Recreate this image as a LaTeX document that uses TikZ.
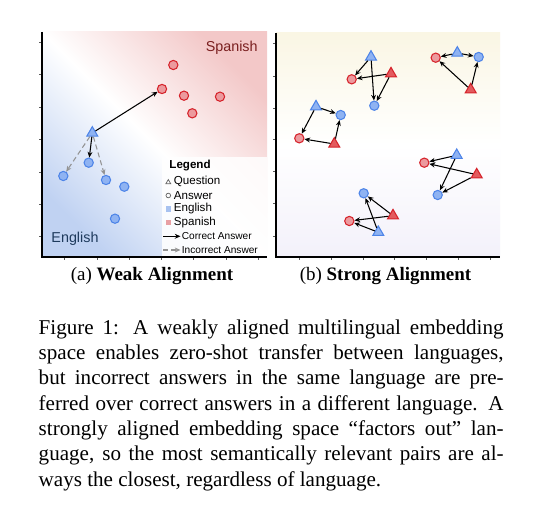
\documentclass[tikz,border=0pt]{standalone}
\usepackage{fontspec}
\setmainfont{Liberation Serif}
\setsansfont{Liberation Sans}
\usetikzlibrary{shapes.geometric,arrows.meta}
\definecolor{bfill}{RGB}{143,179,242}
\definecolor{bstroke}{RGB}{77,132,232}
\definecolor{rfill}{RGB}{236,154,158}
\definecolor{rtfill}{RGB}{227,91,94}
\definecolor{rstroke}{RGB}{214,35,43}
\definecolor{engcol}{RGB}{30,58,92}
\definecolor{spacol}{RGB}{122,31,31}
\definecolor{bluebg}{RGB}{192,210,242}
\definecolor{pinkbg}{RGB}{243,200,200}
\definecolor{topbg}{RGB}{250,246,228}
\definecolor{botbg}{RGB}{243,241,250}
\definecolor{legblue}{RGB}{168,194,240}
\definecolor{legred}{RGB}{232,160,164}
\definecolor{tickcol}{RGB}{90,90,90}
\begin{document}
\begin{tikzpicture}[x=0.4743pt,y=-0.4743pt,
  bc/.style={circle,draw=bstroke,fill=bfill,line width=0.5pt,minimum size=4.4pt,inner sep=0pt},
  rc/.style={circle,draw=rstroke,fill=rfill,line width=0.5pt,minimum size=4.4pt,inner sep=0pt},
  bt/.style={regular polygon,regular polygon sides=3,draw=bstroke,fill=bfill,line width=0.5pt,minimum size=6pt,inner sep=0pt},
  rt/.style={regular polygon,regular polygon sides=3,draw=rstroke,fill=rtfill,line width=0.5pt,minimum size=6pt,inner sep=0pt},
  ar/.style={-{Stealth[length=2.7pt,width=2.3pt]},line width=0.5pt,black},
  dar/.style={-{Stealth[length=2.7pt,width=2.3pt]},line width=0.5pt,draw=gray!85,dash pattern=on 2.4pt off 1.5pt},
  axisline/.style={line width=0.7pt,black},
  tickline/.style={line width=0.3pt,tickcol},
  region/.style={font=\sffamily\fontsize{6.8}{8}\selectfont,inner sep=0pt},
  legtext/.style={font=\sffamily\fontsize{5.5}{6.5}\selectfont,anchor=west,inner sep=0pt},
  legsmall/.style={font=\sffamily\fontsize{4.8}{6}\selectfont,anchor=west,inner sep=0pt},
  subcap/.style={font=\fontsize{9}{11}\selectfont,anchor=base,inner sep=0pt}
]
\useasboundingbox (0,0) rectangle (541,511);
\fill[white] (0,0) rectangle (541,511);
% ---------- panel (a) ----------
\shade[shading=axis,top color=pinkbg,bottom color=bluebg,middle color=white,shading angle=-45] (42,32) rectangle (267,257);
\fill[white,opacity=0.85] (162,157) rectangle (267,257);
\foreach \yy in {42,74,107,139,172,204,236} \draw[tickline] (39,\yy) -- (42,\yy);
\foreach \xx in {64,97,129,161,193,226,258} \draw[tickline] (\xx,257) -- (\xx,260);
\draw[axisline] (42,32) -- (42,257) -- (267,257);

\node[region,text=spacol] (lsp) at (231.7,47.7) {Spanish};
\node[region,text=engcol] (len) at (75,239) {English};

\node[rc] (s1) at (173.3,65) {};
\node[rc] (s2) at (162,89) {};
\node[rc] (s3) at (184,95.7) {};
\node[rc] (s4) at (220,96.7) {};
\node[rc] (s5) at (192.3,113.3) {};
\node[bt] (q) at (92.3,133) {};
\node[bc] (e1) at (88.7,162.7) {};
\node[bc] (e2) at (63.3,176) {};
\node[bc] (e3) at (106,180) {};
\node[bc] (e4) at (124.3,186.7) {};
\node[bc] (e5) at (115,218.7) {};
\draw[ar] (q) -- (s2);
\draw[ar] (q) -- (e1);
\draw[dar] (q) -- (e2);
\draw[dar] (q) -- (e3);

% legend
\node[legtext,font=\sffamily\bfseries\fontsize{5.5}{6.5}\selectfont] (lg) at (169,166) {Legend};
\node[regular polygon,regular polygon sides=3,draw=gray!80!black,line width=0.35pt,minimum size=2.6pt,inner sep=0pt] (lq) at (168.3,182.3) {};
\node[legtext] (lqt) at (173.5,181.7) {Question};
\node[circle,draw=gray!80!black,line width=0.35pt,minimum size=2.2pt,inner sep=0pt] (la) at (168.3,195.5) {};
\node[legtext] (lat) at (173.5,195.3) {Answer};
\node[rectangle,fill=legblue,minimum size=2.5pt,inner sep=0pt] (le) at (168.3,208.9) {};
\node[legtext] (let) at (173.5,208.7) {English};
\node[rectangle,fill=legred,minimum size=2.5pt,inner sep=0pt] (ls) at (168.3,222.5) {};
\node[legtext] (lst) at (173.5,222.3) {Spanish};
\coordinate (lc1) at (163,236.3);
\coordinate (lc2) at (180.5,236.3);
\draw[ar] (lc1) -- (lc2);
\node[legsmall] (lct) at (181.5,236.3) {Correct Answer};
\coordinate (li1) at (163,250);
\coordinate (li2) at (180.5,250);
\draw[dar] (li1) -- (li2);
\node[legsmall] (lit) at (181.5,250) {Incorrect Answer};

% ---------- panel (b) ----------
\shade[top color=topbg,bottom color=botbg,middle color=white] (276,33) rectangle (500,257);
\foreach \yy in {43,76,108,139,171,203,236} \draw[tickline] (273,\yy) -- (276,\yy);
\foreach \xx in {299,331,363,394,426,458,490} \draw[tickline] (\xx,257) -- (\xx,260);
\draw[axisline] (276,33) -- (276,257) -- (500,257);

% group 1
\node[bt] (b1q) at (371,57) {};
\node[rc] (b1a) at (351.7,79.3) {};
\node[rt] (b1r) at (391,73.7) {};
\node[bc] (b1b) at (374.3,105.7) {};
\draw[ar] (b1q) -- (b1a);
\draw[ar] (b1q) -- (b1b);
\draw[ar] (b1r) -- (b1a);
\draw[ar] (b1r) -- (b1b);
% group 2
\node[rc] (b2a) at (435.7,57.7) {};
\node[bt] (b2q) at (457.3,53) {};
\node[bc] (b2b) at (478.7,57) {};
\node[rt] (b2r) at (470.7,89.7) {};
\draw[ar] (b2q) -- (b2a);
\draw[ar] (b2q) -- (b2b);
\draw[ar] (b2r) -- (b2a);
\draw[ar] (b2r) -- (b2b);
% group 3
\node[bt] (b3q) at (316,106.7) {};
\node[bc] (b3b) at (340.7,115) {};
\node[rc] (b3a) at (299.3,138.3) {};
\node[rt] (b3r) at (334.3,144) {};
\draw[ar] (b3q) -- (b3b);
\draw[ar] (b3q) -- (b3a);
\draw[ar] (b3r) -- (b3a);
\draw[ar] (b3r) -- (b3b);
% group 4
\node[bt] (b4q) at (456.7,155.3) {};
\node[rc] (b4a) at (424.3,162.7) {};
\node[rt] (b4r) at (476.7,174.7) {};
\node[bc] (b4b) at (437.7,195) {};
\draw[ar] (b4q) -- (b4a);
\draw[ar] (b4q) -- (b4b);
\draw[ar] (b4r) -- (b4a);
\draw[ar] (b4r) -- (b4b);
% group 5
\node[bc] (b5b) at (363.7,193.3) {};
\node[rt] (b5r) at (393,215.7) {};
\node[rc] (b5a) at (349.3,221) {};
\node[bt] (b5q) at (378.3,232.3) {};
\draw[ar] (b5r) -- (b5b);
\draw[ar] (b5r) -- (b5a);
\draw[ar] (b5q) -- (b5b);
\draw[ar] (b5q) -- (b5a);

% ---------- captions ----------
\node[subcap] (capa) at (152,280.7) {(a) \textbf{Weak Alignment}};
\node[subcap] (capb) at (385.5,280.7) {(b) \textbf{Strong Alignment}};

\node[anchor=base west,inner sep=0pt,font=\fontsize{10}{12}\selectfont] (cap) at (38.3,334.3) {\vtop{\baselineskip=12pt
\hbox to 220.5pt{Figure 1: A weakly aligned multilingual embedding}
\hbox to 220.5pt{space enables zero-shot transfer between languages,}
\hbox to 220.5pt{but incorrect answers in the same language are pre-}
\hbox to 220.5pt{ferred over correct answers in a different language. A}
\hbox to 220.5pt{strongly aligned embedding space “factors out” lan-}
\hbox to 220.5pt{guage, so the most semantically relevant pairs are al-}
\hbox to 220.5pt{ways the closest, regardless of language.\hfil}}};
\end{tikzpicture}
\end{document}
